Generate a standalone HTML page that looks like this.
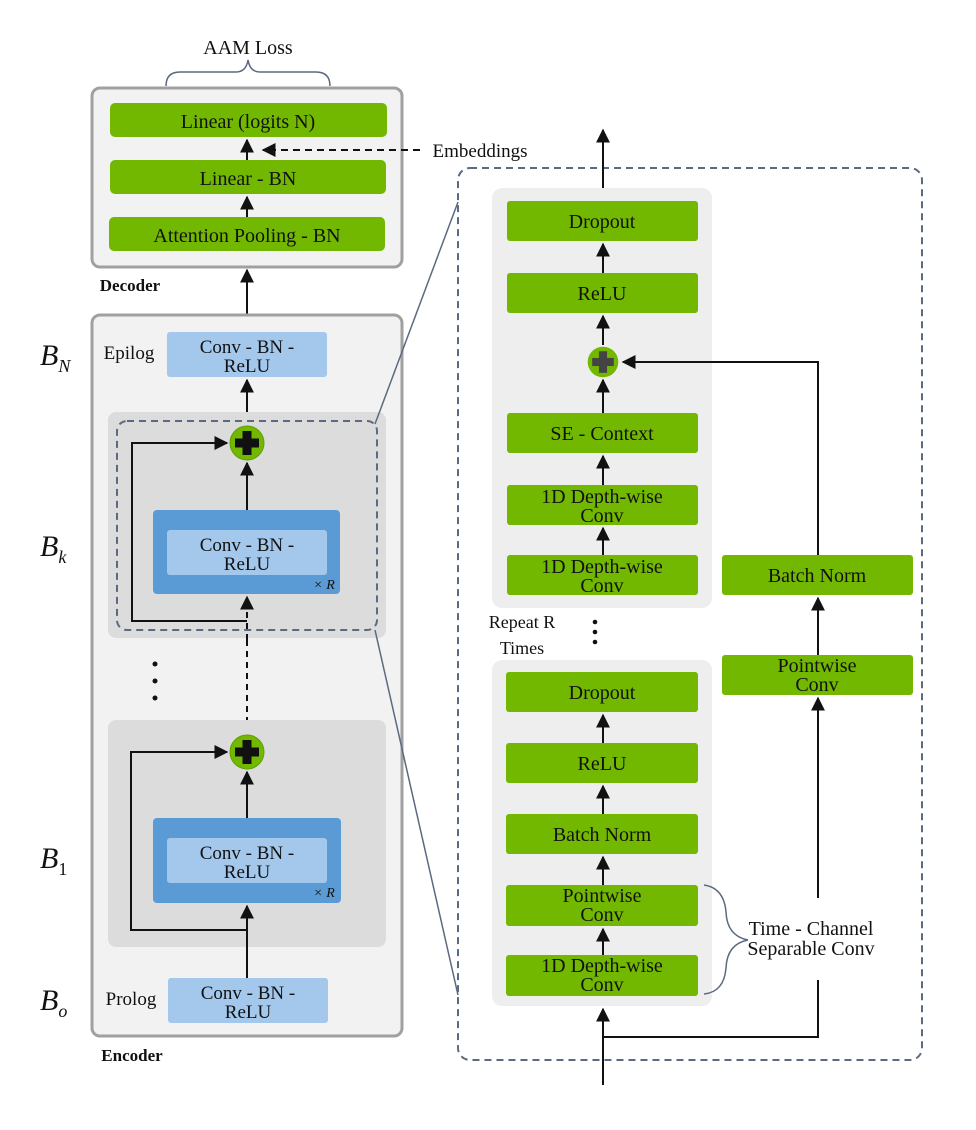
<!DOCTYPE html>
<html><head><meta charset="utf-8"><style>
html,body{margin:0;padding:0;background:#fff;}
svg{display:block}
text{font-family:"Liberation Serif",serif;fill:#111;}
</style></head><body>
<svg width="976" height="1130" viewBox="0 0 976 1130" xmlns="http://www.w3.org/2000/svg">
<defs>
<marker id="a" viewBox="0 0 10 10" refX="9" refY="5" markerWidth="7" markerHeight="7" orient="auto-start-reverse"><path d="M0,0 L10,5 L0,10 z" fill="#111"/></marker>
<g id="plus"><circle r="17" fill="#72b800" stroke="#5fa000"/><rect x="-12" y="-4.5" width="24" height="9" fill="#111"/><rect x="-4.5" y="-12" width="9" height="24" fill="#111"/></g>
</defs>
<g font-size="20" text-anchor="middle">
<!-- AAM loss -->
<text x="248" y="54" font-size="20">AAM Loss</text>
<path d="M166,86 Q166,72 180,72 L236,72 Q246,72 248,60 Q250,72 260,72 L316,72 Q330,72 330,86" fill="none" stroke="#5a6a80" stroke-width="1.5"/>
<!-- Decoder -->
<rect x="92" y="88" width="310" height="179" rx="8" fill="#f2f2f2" stroke="#a0a0a0" stroke-width="3"/>
<rect x="110" y="103" width="277" height="34" rx="5" fill="#72b800"/><text x="248" y="128">Linear (logits N)</text>
<rect x="110" y="160" width="276" height="34" rx="5" fill="#72b800"/><text x="248" y="185">Linear - BN</text>
<rect x="109" y="217" width="276" height="34" rx="5" fill="#72b800"/><text x="247" y="242">Attention Pooling - BN</text>
<line x1="247" y1="160" x2="247" y2="140" stroke="#111" stroke-width="2" marker-end="url(#a)"/>
<line x1="247" y1="217" x2="247" y2="197" stroke="#111" stroke-width="2" marker-end="url(#a)"/>
<line x1="420" y1="150" x2="263" y2="150" stroke="#111" stroke-width="2" stroke-dasharray="7,5" marker-end="url(#a)"/>
<text x="480" y="157" font-size="19">Embeddings</text>
<text x="130" y="291" font-weight="bold" font-size="17">Decoder</text>
<line x1="247" y1="314" x2="247" y2="270" stroke="#111" stroke-width="2" marker-end="url(#a)"/>
<!-- Encoder -->
<rect x="92" y="315" width="310" height="721" rx="8" fill="#f2f2f2" stroke="#a0a0a0" stroke-width="3"/>
<text x="132" y="1061" font-weight="bold" font-size="17">Encoder</text>
<text x="129" y="359" font-size="19">Epilog</text>
<rect x="167" y="332" width="160" height="45" rx="3" fill="#a3c8ec"/>
<text x="247" y="353" font-size="19">Conv - BN -</text><text x="247" y="372" font-size="19">ReLU</text>
<line x1="247" y1="426" x2="247" y2="380" stroke="#111" stroke-width="2" marker-end="url(#a)"/>
<!-- Bk -->
<rect x="108" y="412" width="278" height="226" rx="8" fill="#dcdcdc"/>
<rect x="117" y="421" width="260" height="209" rx="10" fill="none" stroke="#5a6a80" stroke-width="2" stroke-dasharray="7,5"/>
<rect x="153" y="510" width="187" height="84" rx="4" fill="#5b9bd5"/>
<rect x="167" y="530" width="160" height="45" rx="3" fill="#a3c8ec"/>
<text x="247" y="551" font-size="19">Conv - BN -</text><text x="247" y="570" font-size="19">ReLU</text>
<text x="324" y="589" font-size="14" font-style="italic">× R</text>
<line x1="247" y1="510" x2="247" y2="463" stroke="#111" stroke-width="2" marker-end="url(#a)"/>
<polyline points="247,621 132,621 132,443 227,443" fill="none" stroke="#111" stroke-width="2" marker-end="url(#a)"/>
<line x1="247" y1="640" x2="247" y2="597" stroke="#111" stroke-width="2" stroke-dasharray="6,5" marker-end="url(#a)"/>
<use href="#plus" x="247" y="443"/>
<!-- dots -->
<circle cx="155" cy="664" r="2.5" fill="#111"/><circle cx="155" cy="681" r="2.5" fill="#111"/><circle cx="155" cy="698" r="2.5" fill="#111"/>
<line x1="247" y1="640" x2="247" y2="733" stroke="#111" stroke-width="2" stroke-dasharray="6,5" marker-end="url(#a)"/>
<!-- B1 -->
<rect x="108" y="720" width="278" height="227" rx="8" fill="#dcdcdc"/>
<rect x="153" y="818" width="188" height="85" rx="4" fill="#5b9bd5"/>
<rect x="167" y="838" width="160" height="45" rx="3" fill="#a3c8ec"/>
<text x="247" y="859" font-size="19">Conv - BN -</text><text x="247" y="878" font-size="19">ReLU</text>
<text x="324" y="897" font-size="14" font-style="italic">× R</text>
<line x1="247" y1="818" x2="247" y2="772" stroke="#111" stroke-width="2" marker-end="url(#a)"/>
<polyline points="247,930 131,930 131,752 227,752" fill="none" stroke="#111" stroke-width="2" marker-end="url(#a)"/>
<line x1="247" y1="978" x2="247" y2="906" stroke="#111" stroke-width="2" marker-end="url(#a)"/>
<use href="#plus" x="247" y="752"/>
<!-- Prolog -->
<text x="131" y="1005" font-size="19">Prolog</text>
<rect x="168" y="978" width="160" height="45" rx="3" fill="#a3c8ec"/>
<text x="248" y="999" font-size="19">Conv - BN -</text><text x="248" y="1018" font-size="19">ReLU</text>
<!-- B labels -->
<g font-size="30" font-style="italic" text-anchor="start">
<text x="40" y="365">B<tspan font-size="18" dy="7">N</tspan></text>
<text x="40" y="556">B<tspan font-size="18" dy="7">k</tspan></text>
<text x="40" y="868">B<tspan font-size="18" font-style="normal" dy="7">1</tspan></text>
<text x="40" y="1010">B<tspan font-size="18" dy="7">o</tspan></text>
</g>
<!-- zoom lines -->
<line x1="375" y1="424" x2="458" y2="202" stroke="#5a6a80" stroke-width="1.5"/>
<line x1="375" y1="630" x2="458" y2="995" stroke="#5a6a80" stroke-width="1.5"/>
<!-- right dashed -->
<rect x="458" y="168" width="464" height="892" rx="12" fill="none" stroke="#5a6a80" stroke-width="2" stroke-dasharray="7,5"/>
<!-- top panel -->
<rect x="492" y="188" width="220" height="420" rx="10" fill="#eeeeee"/>
<g font-size="20">
<rect x="507" y="201" width="191" height="40" rx="3" fill="#72b800"/><text x="602" y="228">Dropout</text>
<rect x="507" y="273" width="191" height="40" rx="3" fill="#72b800"/><text x="602" y="300">ReLU</text>
<rect x="507" y="413" width="191" height="40" rx="3" fill="#72b800"/><text x="602" y="440">SE - Context</text>
<rect x="507" y="485" width="191" height="40" rx="3" fill="#72b800"/><text x="602" y="503">1D Depth-wise</text><text x="602" y="522">Conv</text>
<rect x="507" y="555" width="191" height="40" rx="3" fill="#72b800"/><text x="602" y="573">1D Depth-wise</text><text x="602" y="592">Conv</text>
</g>
<line x1="603" y1="188" x2="603" y2="130" stroke="#111" stroke-width="2" marker-end="url(#a)"/>
<line x1="603" y1="273" x2="603" y2="244" stroke="#111" stroke-width="2" marker-end="url(#a)"/>
<line x1="603" y1="345" x2="603" y2="316" stroke="#111" stroke-width="2" marker-end="url(#a)"/>
<line x1="603" y1="413" x2="603" y2="380" stroke="#111" stroke-width="2" marker-end="url(#a)"/>
<line x1="603" y1="485" x2="603" y2="456" stroke="#111" stroke-width="2" marker-end="url(#a)"/>
<line x1="603" y1="555" x2="603" y2="528" stroke="#111" stroke-width="2" marker-end="url(#a)"/>
<g transform="translate(603,362) scale(0.9)"><circle r="17" fill="#72b800"/><rect x="-12" y="-4.5" width="24" height="9" fill="#444"/><rect x="-4.5" y="-12" width="9" height="24" fill="#444"/></g>
<text x="522" y="628" font-size="18">Repeat R</text><text x="522" y="654" font-size="18">Times</text>
<circle cx="595" cy="622" r="2.3" fill="#111"/><circle cx="595" cy="632" r="2.3" fill="#111"/><circle cx="595" cy="642" r="2.3" fill="#111"/>
<!-- bottom panel -->
<rect x="492" y="660" width="220" height="346" rx="10" fill="#eeeeee"/>
<g font-size="20">
<rect x="506" y="672" width="192" height="40" rx="3" fill="#72b800"/><text x="602" y="699">Dropout</text>
<rect x="506" y="743" width="192" height="40" rx="3" fill="#72b800"/><text x="602" y="770">ReLU</text>
<rect x="506" y="814" width="192" height="40" rx="3" fill="#72b800"/><text x="602" y="841">Batch Norm</text>
<rect x="506" y="885" width="192" height="41" rx="3" fill="#72b800"/><text x="602" y="902">Pointwise</text><text x="602" y="921">Conv</text>
<rect x="506" y="955" width="192" height="41" rx="3" fill="#72b800"/><text x="602" y="972">1D Depth-wise</text><text x="602" y="991">Conv</text>
</g>
<line x1="603" y1="743" x2="603" y2="715" stroke="#111" stroke-width="2" marker-end="url(#a)"/>
<line x1="603" y1="814" x2="603" y2="786" stroke="#111" stroke-width="2" marker-end="url(#a)"/>
<line x1="603" y1="885" x2="603" y2="857" stroke="#111" stroke-width="2" marker-end="url(#a)"/>
<line x1="603" y1="955" x2="603" y2="929" stroke="#111" stroke-width="2" marker-end="url(#a)"/>
<line x1="603" y1="1085" x2="603" y2="1009" stroke="#111" stroke-width="2" marker-end="url(#a)"/>
<polyline points="603,1037 818,1037 818,980" fill="none" stroke="#111" stroke-width="2"/>
<line x1="818" y1="898" x2="818" y2="698" stroke="#111" stroke-width="2" marker-end="url(#a)"/>
<!-- right column -->
<rect x="722" y="555" width="191" height="40" rx="3" fill="#72b800"/><text x="817" y="582">Batch Norm</text>
<rect x="722" y="655" width="191" height="40" rx="3" fill="#72b800"/><text x="817" y="672">Pointwise</text><text x="817" y="691">Conv</text>
<line x1="818" y1="655" x2="818" y2="598" stroke="#111" stroke-width="2" marker-end="url(#a)"/>
<polyline points="818,555 818,362 623,362" fill="none" stroke="#111" stroke-width="2" marker-end="url(#a)"/>
<!-- bracket -->
<path d="M704,885 Q724,888 726,912 Q727,936 748,940 Q727,944 726,968 Q724,992 704,994" fill="none" stroke="#5a6a80" stroke-width="1.5"/>
<text x="811" y="935" font-size="20">Time - Channel</text>
<text x="811" y="955" font-size="20">Separable Conv</text>
</g>
</svg>
</body></html>
